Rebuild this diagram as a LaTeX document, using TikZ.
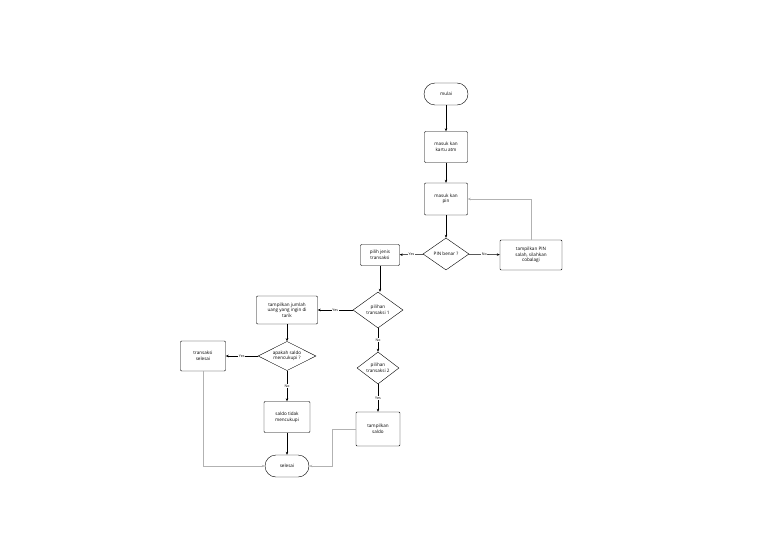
\documentclass[tikz,border=0pt]{standalone}
\usepackage{fontspec}
\setmainfont{Open Sans}
\usetikzlibrary{shapes.geometric,arrows.meta}
\begin{document}
\begin{tikzpicture}[x=1pt,y=-1pt,
  every node/.style={font=\fontsize{4.6}{5.6}\selectfont,align=center},
  box/.style={draw,rounded corners=1pt,minimum width=#1,minimum height=31,inner sep=1pt},
  box/.default=44,
  term/.style={draw,rounded corners=11,minimum width=44,minimum height=22},
  dia/.style={draw,diamond,aspect=1.5,inner sep=0pt},
  lbl/.style={font=\fontsize{3.6}{4}\selectfont,fill=white,inner sep=0.5pt},
  ar/.style={draw,-{Stealth[length=3pt,width=2.5pt]},line width=0.5pt},
  gar/.style={ar,draw=gray!60}]
\useasboundingbox (0,0) rectangle (768,543);
\node[term] (mulai) at (446,94) {mulai};
\node[box=43] (kartu) at (446,147) {masuk kan\\kartu atm};
\node[box=43,minimum height=32] (pin) at (446,199) {masuk kan\\pin};
\node[dia,minimum width=46,minimum height=32] (benar) at (446,254) {PIN benar ?};
\node[box=62,minimum height=30] (salah) at (531,255) {tampilkan PIN\\salah, silahkan\\cobalagi};
\node[box=39,minimum height=21] (jenis) at (380,255) {pilih jenis\\transaksi};
\node[dia,minimum width=50,minimum height=36] (t1) at (378,310) {pilihan\\transaksi 1};
\node[dia,minimum width=42,minimum height=32] (t2) at (378,368) {pilihan\\transaksi 2};
\node[box=44,minimum height=34] (saldo) at (378,429) {tampilkan\\saldo};
\node[box=61,minimum height=28] (jumlah) at (287,310) {tampilkan jumlah\\uang yang ingin di\\tarik};
\node[dia,minimum width=58,minimum height=28] (cukup) at (287,356) {apakah saldo\\mencukupi ?};
\node[box=45,minimum height=30] (tsel) at (203,356) {transaksi\\selesai};
\node[box=46] (tidak) at (287,417) {saldo tidak\\mencukupi};
\node[term] (selesai) at (287,466) {selesai};
\coordinate (c1) at (332,429);
\draw[ar] (mulai) -- (kartu);
\draw[ar] (kartu) -- (pin);
\draw[ar] (pin) -- (benar);
\draw[ar] (benar) -- node[lbl]{No} (salah);
\draw[ar] (benar) -- node[lbl]{Yes} (jenis);
\draw[gar] (salah.north) |- (pin.east);
\draw[ar] (jenis.south) -- (jenis.south |- t1.north);
\draw[ar] (t1) -- node[lbl]{Yes} (jumlah);
\draw[ar] (t1) -- node[lbl]{No} (t2);
\draw[ar] (t2) -- node[lbl]{Yes} (saldo);
\draw[ar] (jumlah) -- (cukup);
\draw[ar] (cukup) -- node[lbl]{Yes} (tsel);
\draw[ar] (cukup) -- node[lbl]{No} (tidak);
\draw[ar] (tidak) -- (selesai);
\draw[gar] (tsel.south) |- (selesai.west);
\draw[gar] (saldo.west) -- (c1) |- (selesai.east);
\end{tikzpicture}
\end{document}
